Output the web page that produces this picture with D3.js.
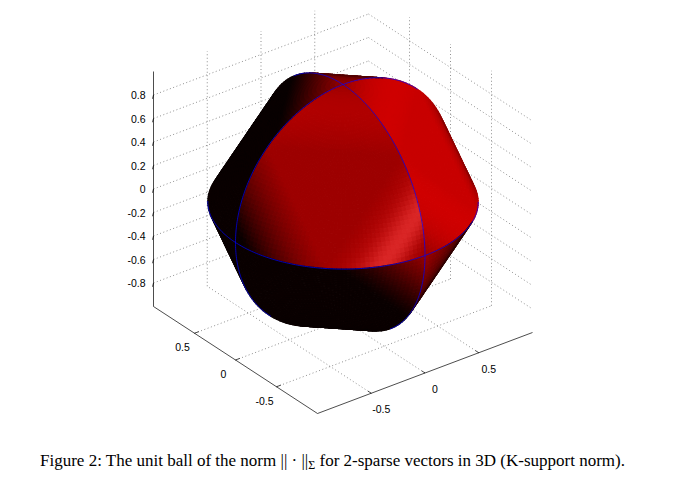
<!DOCTYPE html>
<html><head><meta charset="utf-8">
<script src="https://cdn.jsdelivr.net/npm/d3@7"></script>
<style>body{margin:0;background:#fff}svg{display:block}</style>
</head><body>
<svg id="c" width="677" height="490"></svg>
<script>
// ---- data ----
const xTicks = [-0.5, 0, 0.5];            // axis along left-front edge
const yTicks = [-0.5, 0, 0.5];            // axis along front-right edge
const zTicks = [-0.8, -0.6, -0.4, -0.2, 0, 0.2, 0.4, 0.6, 0.8];
const zTickLabels = ["-0.8","-0.6","-0.4","-0.2","0","0.2","0.4","0.6","0.8"];
const axisLimits = [-1, 1];
const sparsityK = [2];
const caption = "Figure 2: The unit ball of the norm || \u00b7 ||";

const svg = d3.select("#c");
const cx = 343, cy = 202;
const axX = d3.scaleLinear().domain(axisLimits).range([82, -82]);
const ayX = d3.scaleLinear().domain(axisLimits).range([53.5, -53.5]);
const bxX = d3.scaleLinear().domain(axisLimits).range([-107.5, 107.5]);
const byX = d3.scaleLinear().domain(axisLimits).range([40.5, -40.5]);
const czY = d3.scaleLinear().domain(axisLimits).range([117.5, -117.5]);
function P(a,b,c){ return [cx + axX(a) + bxX(b), cy + ayX(a) + byX(b) + czY(c)]; }
const A=[axX(1),ayX(1)], B=[bxX(1),byX(1)], C=[0,czY(1)];
const norm3=v=>{const l=Math.hypot(...v);return v.map(t=>t/l)};
const dot=(u,v)=>u[0]*v[0]+u[1]*v[1]+u[2]*v[2];
const cross=(u,v)=>[u[1]*v[2]-u[2]*v[1],u[2]*v[0]-u[0]*v[2],u[0]*v[1]-u[1]*v[0]];
let V = norm3(cross([A[0],B[0],C[0]],[A[1],B[1],C[1]]));
if (V[2]<0) V=V.map(t=>-t);

// ---- grid ----
const g = svg.append("g");
const grid=(p,q)=>{const s=P(...p),e=P(...q);
  g.append("line").attr("x1",s[0]).attr("y1",s[1]).attr("x2",e[0]).attr("y2",e[1])
   .attr("stroke","#444").attr("stroke-width",0.6).attr("stroke-dasharray","1,2.5");};
xTicks.forEach(t=>{grid([t,-1,-1],[t,1,-1]); grid([t,1,-1],[t,1,1]);});
yTicks.forEach(t=>{grid([-1,t,-1],[1,t,-1]); grid([1,t,-1],[1,t,1]);});
zTicks.forEach(t=>{grid([1,-1,t],[1,1,t]); grid([1,1,t],[-1,1,t]);});

// ---- surface ----
const k = sparsityK[0];
function N(x){const s=x.map(Math.abs).sort((p,q)=>q-p);
  if(s[0]>s[1]+s[2]) return Math.hypot(s[0],s[1]+s[2]);
  return (s[0]+s[1]+s[2])/Math.sqrt(k);}
function grad(p){const h=1e-4;const gr=[0,0,0];
  for(let i=0;i<3;i++){const q=p.slice(),r=p.slice();q[i]+=h;r[i]-=h;gr[i]=(N(q)-N(r))/(2*h);} return norm3(gr);}
const L = norm3([-0.7,0.15,0.7]);
const H = norm3([-0.35,-0.06,0.2]);
const nT=90,nP=180;
const pts=[];
for(let i=0;i<=nT;i++){pts.push([]);const th=Math.PI*i/nT;
  for(let j=0;j<=nP;j++){const ph=2*Math.PI*j/nP;
    const u=[Math.sin(th)*Math.cos(ph),Math.sin(th)*Math.sin(ph),Math.cos(th)];
    const n=N(u); pts[i].push(u.map(t=>t/n));}}
const sg=svg.append("g").attr("shape-rendering","geometricPrecision");
for(let i=0;i<nT;i++)for(let j=0;j<nP;j++){
  const q=[pts[i][j],pts[i+1][j],pts[i+1][j+1],pts[i][j+1]];
  const m=[0,1,2].map(d=>(q[0][d]+q[1][d]+q[2][d]+q[3][d])/4);
  const n=grad(m);
  if(dot(n,V)<=-0.05) continue;
  const dif=Math.max(0,dot(n,L)), sp=Math.pow(Math.max(0,dot(n,H)),40);
  const r=Math.min(1,0.04+0.85*Math.pow(dif,1.2)+0.55*sp), gg=Math.min(1,0.5*sp);
  const col=d3.rgb(r*255,gg*255,gg*255).toString();
  const sc=q.map(p=>P(...p));
  sg.append("path").attr("d","M"+sc.map(s=>s.join(",")).join("L")+"Z")
    .attr("fill",col).attr("stroke",col).attr("stroke-width",1.1).attr("stroke-linejoin","round");
}
// circles
const cg=svg.append("g");
[0,1,2].forEach(ax=>{
  let seg=[];const segs=[];
  for(let j=0;j<=360;j++){const t=2*Math.PI*j/360;const p=[0,0,0];
    p[(ax+1)%3]=Math.cos(t);p[(ax+2)%3]=Math.sin(t);
    const q=p.map(v=>v*0.999);
    const n=norm3(q);
    const gn=grad(q.map((v,i)=>v+1e-3*n[i]));
    if(dot(gn,V)>-0.02) seg.push(P(...p)); else {if(seg.length>1)segs.push(seg);seg=[];}
  }
  if(seg.length>1)segs.push(seg);
  segs.forEach(s=>cg.append("path").attr("d",d3.line()(s)).attr("fill","none").attr("stroke","#0000ff").attr("stroke-width",0.7));
});

// ---- axes ----
const ag=svg.append("g").attr("font-family","Liberation Sans, Arial, sans-serif").attr("font-size",10.5).attr("fill","#000");
const line=(p,q)=>{const s=P(...p),e=P(...q);
  ag.append("line").attr("x1",s[0]).attr("y1",s[1]).attr("x2",e[0]).attr("y2",e[1]).attr("stroke","#000").attr("stroke-width",0.7);};
line([1,-1,-1],[1,-1,1]); line([1,-1,-1],[-1,-1,-1]); line([-1,-1,-1],[-1,1,-1]);
zTicks.forEach((t,i)=>{const s=P(1,-1,t);
  line([1,-1,t],[0.96,-1.04,t]);
  ag.append("text").attr("x",s[0]-8).attr("y",s[1]+4).attr("text-anchor","end").text(zTickLabels[i]);});
xTicks.forEach(t=>{const s=P(t,-1,-1);line([t,-1,-1],[t,-0.96,-1]);
  ag.append("text").attr("x",s[0]-12).attr("y",s[1]+18).attr("text-anchor","middle").text(String(t));});
yTicks.forEach(t=>{const s=P(-1,t,-1);line([-1,t,-1],[-0.96,t,-1]);
  ag.append("text").attr("x",s[0]+10).attr("y",s[1]+20).attr("text-anchor","middle").text(String(t));});

// caption
const cap=svg.append("text").attr("x",40).attr("y",466).attr("font-family","Liberation Serif, Times New Roman, serif").attr("font-size",17);
cap.append("tspan").text(caption);
cap.append("tspan").attr("font-size",12).attr("dy",3).text("\u03a3");
cap.append("tspan").attr("dy",-3).text(" for 2-sparse vectors in 3D (K-support norm).");
</script>
</body></html>
